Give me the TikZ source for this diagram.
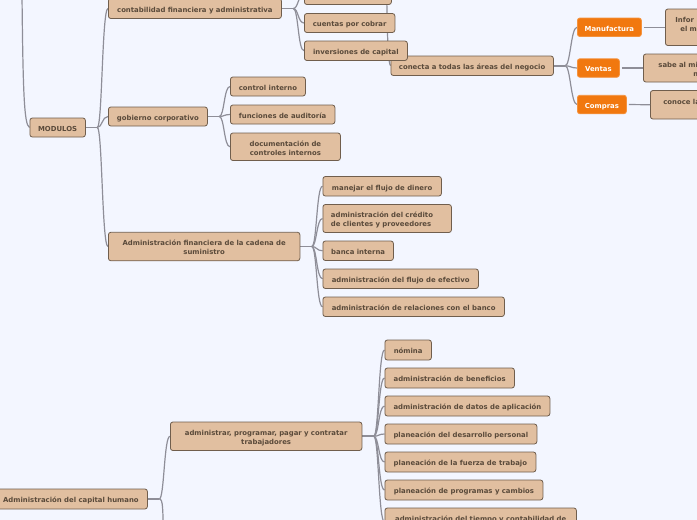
\documentclass[tikz,border=0pt]{standalone}
\usepackage{fontspec}
\setmainfont{DejaVu Sans}
\usetikzlibrary{backgrounds}
\definecolor{paper}{HTML}{F3F6FF}
\definecolor{tan}{HTML}{E1BFA0}
\definecolor{edge}{HTML}{705E4D}
\definecolor{ink}{HTML}{5A4A3A}
\definecolor{wire}{HTML}{8E8E98}
\definecolor{tag}{HTML}{F1780F}

\begin{document}
\begin{tikzpicture}[x=1pt, y=-1pt,
    modbox/.style={draw=edge, fill=tan, text=ink, rounded corners=2.5pt, line width=.8pt, inner sep=0pt, anchor=west, align=center, font=\fontsize{6.9}{9}\selectfont\bfseries,
        execute at begin node={\rule[-1.6pt]{0pt}{11pt}}, execute at end node={\rule[-1.6pt]{0pt}{0pt}}},
    lbox/.style={modbox, align=left, inner xsep=8pt},
    cutbox/.style={modbox, align=left, text width=60pt},
    tagbox/.style={modbox, draw=tag!80!white, fill=tag, text=white, minimum height=18.5pt},
    stub/.style={draw=wire, line width=1.8pt},
    twig/.style={draw=wire, line width=1.2pt},
    link/.style={draw=wire, line width=1.2pt, shorten <=2pt}]
    \useasboundingbox (0,0) rectangle (697,520);
    % left tree
    \node[modbox, minimum width=55.5, minimum height=19] (modulos) at (29.5,127.5) {MODULOS};
    \node[modbox, minimum width=173, minimum height=20] (contab) at (108,8.5) {contabilidad financiera y administrativa};
    \node[modbox, minimum width=99, minimum height=19] (gobierno) at (108,116.5) {gobierno corporativo};
    \node[modbox, text width=191.5, minimum height=28.5] (finanzas) at (108,246.5) {Administración financiera de la cadena de\\suministro};
    % top branch
    \node[modbox, minimum width=162.5, minimum height=19.5] (conecta) at (390.5,65.75) {conecta a todas las áreas del negocio};
    \node[modbox, minimum width=87, minimum height=20] (topbox) at (304,-5.5) {};
    \node[modbox, minimum width=90.5, minimum height=19] (cuentas) at (304,23) {cuentas por cobrar};
    \node[modbox, minimum width=103, minimum height=19.5] (inversion) at (304,50.75) {inversiones de capital};
    \node[tagbox, minimum width=64] (manuf) at (577,27.25) {Manufactura};
    \node[tagbox, minimum width=42] (ventas) at (577,68) {Ventas};
    \node[tagbox, minimum width=49] (compras) at (577,104.5) {Compras};
    \node[cutbox, inner xsep=10pt, minimum height=36.5] (informa) at (665,27.25) {Infor\\\hspace*{5pt}el m\\\mbox{}};
    \node[cutbox, inner xsep=15pt, minimum height=28] (sabe) at (643,68) {sabe al mi\\\hspace*{35pt}m};
    \node[cutbox, inner xsep=13pt, minimum height=28.5] (conoce) at (650,104.75) {conoce la\\\mbox{}};
    % gobierno
    \node[modbox, minimum width=75, minimum height=19] (control) at (230,86.5) {control interno};
    \node[modbox, minimum width=104.5, minimum height=19] (auditoria) at (230,114.5) {funciones de auditoría};
    \node[modbox, text width=110, minimum height=27.5] (documenta) at (230,146.75) {documentación de\\controles internos};
    % finanzas
    \node[modbox, minimum width=118.5, minimum height=19.5] (dinero) at (322.5,186.25) {manejar el flujo de dinero};
    \node[lbox, text width=112.5, minimum height=28] (credito) at (322.5,218.5) {administración del crédito\\de clientes y proveedores};
    \node[modbox, minimum width=70.5, minimum height=19.5] (banca) at (322.5,250.75) {banca interna};
    \node[modbox, minimum width=155.5, minimum height=19.5] (efectivo) at (322.5,278.75) {administración del flujo de efectivo};
    \node[modbox, minimum width=181.5, minimum height=19.5] (banco) at (322.5,306.75) {administración de relaciones con el banco};
    % capital humano
    \node[modbox, minimum width=153, minimum height=20] (capital) at (-6,499) {Administración del capital humano};
    \node[modbox, text width=191.5, minimum height=28.5] (administrar) at (170,436.25) {administrar, programar, pagar y contratar\\trabajadores};
    \node[modbox, minimum width=46.5, minimum height=20] (nomina) at (384.5,350) {nómina};
    \node[modbox, minimum width=129.5, minimum height=20] (beneficios) at (384.5,378) {administración de beneficios};
    \node[modbox, minimum width=165, minimum height=20] (datos) at (384.5,406) {administración de datos de aplicación};
    \node[modbox, minimum width=152, minimum height=20] (desarrollo) at (384.5,434) {planeación del desarrollo personal};
    \node[modbox, minimum width=151, minimum height=20] (fuerza) at (384.5,462) {planeación de la fuerza de trabajo};
    \node[modbox, minimum width=158, minimum height=20] (programas) at (384.5,490) {planeación de programas y cambios};
    \node[modbox, text width=191.5, minimum height=28] (tiempo) at (384.5,522) {administración del tiempo y contabilidad de\\\mbox{}};
    % free ends
    \coordinate (rootup) at (22,-5);
    \coordinate (crossup) at (386.7,-5);
    \coordinate (capdown) at (163.5,530);
    \begin{scope}[on background layer]
        \fill[paper] (0,0) rectangle (697,520);
        \foreach \from in {modulos,contab,gobierno,finanzas,conecta,capital,administrar}
            \draw[stub] (\from.east) -- ++(11.5,0);
        \foreach \from/\kid in {modulos/contab,modulos/gobierno,modulos/finanzas,
            contab/topbox,contab/cuentas,contab/inversion,
            gobierno/control,gobierno/auditoria,gobierno/documenta,
            finanzas/dinero,finanzas/credito,finanzas/banca,finanzas/efectivo,finanzas/banco,
            conecta/manuf,conecta/ventas,conecta/compras,capital/administrar,
            administrar/nomina,administrar/beneficios,administrar/datos,administrar/desarrollo,
            administrar/fuerza,administrar/programas,administrar/tiempo}
            \draw[twig] (\from.east) ++(11.5,0) .. controls +(5,0) and +(-6,0) .. (\kid.west);
        \draw[twig] (capital.east) ++(11.5,0) .. controls +(4,0) and +(-1,-20) .. (capdown);
        \draw[twig] (rootup) .. controls (23,90) and (24,125) .. (modulos.west);
        \draw[twig] (crossup) .. controls (387.5,40) and (388,62) .. (conecta.west);
    \end{scope}
    \draw[link] (manuf.east) -- (informa.west);
    \draw[link] (ventas.east) -- (sabe.west);
    \draw[link] (compras.east) -- (conoce.west);
\end{tikzpicture}
\end{document}
